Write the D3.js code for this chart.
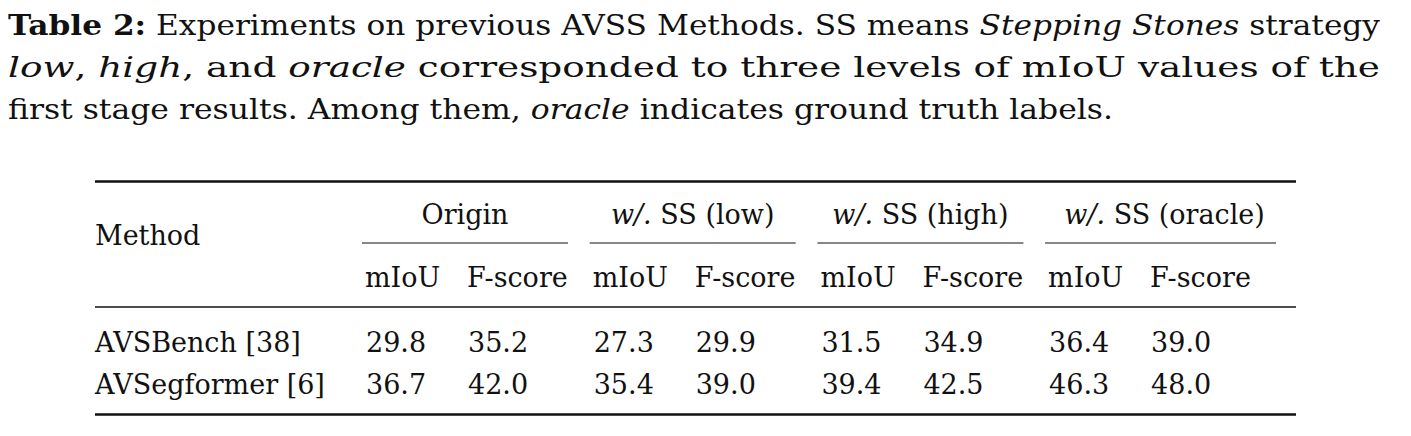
<!DOCTYPE html>
<html><head><meta charset="utf-8">
<script src="https://cdn.jsdelivr.net/npm/d3@7"></script>
<style>body{margin:0;background:#fff}text{font-family:"DejaVu Serif","Liberation Serif",serif;fill:#111}</style>
</head><body><div id="chart"></div>
<script>
// caption pieces: [text, style]
const captionLines = [
  [["Table 2:", "b"], [" Experiments on previous AVSS Methods. SS means ", ""], ["Stepping Stones", "i"], [" strategy", ""]],
  [["low", "i"], [", ", ""], ["high", "i"], [", and ", ""], ["oracle", "i"], [" corresponded to three levels of mIoU values of the", ""]],
  [["first stage results. Among them, ", ""], ["oracle", "i"], [" indicates ground truth labels.", ""]]
];
const captionWidths = [1372, 1372, 1105];
const groups = [["Origin", ""], ["w/.", " SS (low)"], ["w/.", " SS (high)"], ["w/.", " SS (oracle)"]];
const subHeaders = ["mIoU", "F-score"];
const methods = ["AVSBench [38]", "AVSegformer [6]"];
const values = [
  ["29.8", "35.2", "27.3", "29.9", "31.5", "34.9", "36.4", "39.0"],
  ["36.7", "42.0", "35.4", "39.0", "39.4", "42.5", "46.3", "48.0"]
];

const W = 1411, H = 436;
const svg = d3.select("#chart").append("svg").attr("width", W).attr("height", H);

// caption
const capY = d3.scaleLinear().domain([0, 1]).range([35, 77]);
captionLines.forEach((line, i) => {
  const t = svg.append("text").attr("x", 8).attr("y", capY(i)).style("font-size", "28px")
    .attr("textLength", captionWidths[i]).attr("lengthAdjust", "spacingAndGlyphs");
  line.forEach(([s, st]) => {
    t.append("tspan").text(s)
      .style("font-weight", st === "b" ? "bold" : null)
      .style("font-style", st === "i" ? "italic" : null);
  });
});

// columns
const groupX = d3.scaleLinear().domain([0, 1]).range([365, 592.7]);
const colX = c => groupX(Math.floor(c / 2)) + (c % 2) * 102;
const rowY = d3.scaleLinear().domain([0, 1]).range([352, 394]);
const fs = "27px";

// rules
const rule = (y, w) => svg.append("line").attr("x1", 95).attr("x2", 1296)
  .attr("y1", y).attr("y2", y).attr("stroke", "#111").attr("stroke-width", w);
rule(181.5, 2.5); rule(307, 1.5); rule(414.5, 2.5);

svg.append("text").attr("x", 95).attr("y", 245).style("font-size", fs).text("Method");

groups.forEach(([it, rest], g) => {
  const x0 = groupX(g) - 3, x1 = g === 3 ? 1276 : groupX(g) + 203;
  const t = svg.append("text").attr("x", (x0 + x1) / 2 + (g === 3 ? 4 : 0)).attr("y", 224)
    .attr("text-anchor", "middle").style("font-size", fs);
  if (rest) { t.append("tspan").style("font-style", "italic").text(it); t.append("tspan").text(rest); }
  else t.text(it);
  svg.append("line").attr("x1", x0).attr("x2", x1).attr("y1", 243).attr("y2", 243)
    .attr("stroke", "#111").attr("stroke-width", 1.2);
  subHeaders.forEach((s, k) => svg.append("text").attr("x", colX(g * 2 + k)).attr("y", 287)
    .style("font-size", fs).text(s));
});

methods.forEach((m, r) => {
  svg.append("text").attr("x", 95).attr("y", rowY(r)).style("font-size", fs).text(m);
  values[r].forEach((v, c) => svg.append("text").attr("x", colX(c) + 1).attr("y", rowY(r))
    .style("font-size", fs).text(v));
});
</script></body></html>
